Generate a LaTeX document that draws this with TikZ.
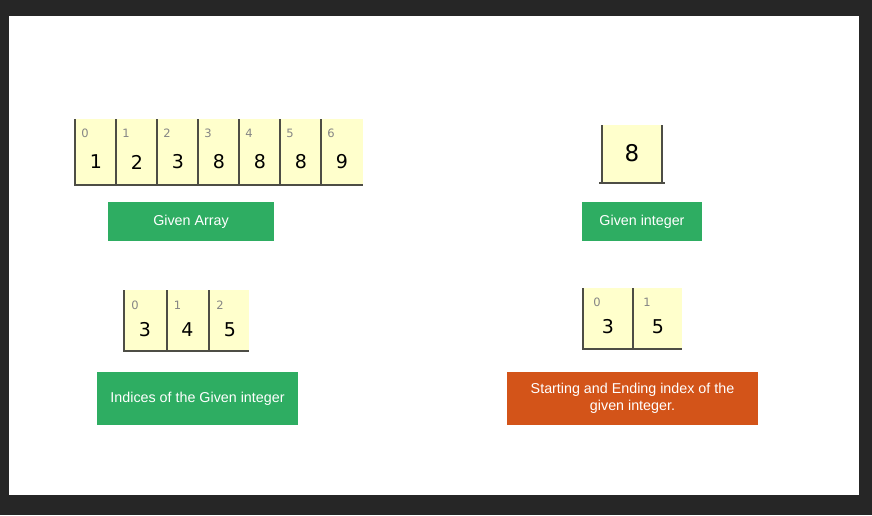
\documentclass[tikz,border=0pt]{standalone}
\usepackage{fontspec}
\setmainfont{Liberation Sans}
\newfontfamily\digitfont{DejaVu Sans}
\definecolor{frame}{HTML}{262626}
\definecolor{cellfill}{HTML}{FFFFCC}
\definecolor{cellline}{HTML}{4D4D45}
\definecolor{idxgray}{HTML}{858585}
\definecolor{gfgreen}{HTML}{2EAD62}
\definecolor{gforange}{HTML}{D35419}
\tikzset{
  cellrule/.style={draw=cellline, line width=2pt},
  valtext/.style={font=\digitfont\fontsize{19}{19}\selectfont, text=black, inner sep=0pt},
  bigval/.style={font=\digitfont\fontsize{23}{23}\selectfont, text=black, inner sep=0pt},
  idxtext/.style={font=\digitfont\fontsize{11.5}{11.5}\selectfont, text=idxgray, inner sep=0pt},
  labelbox/.style={text=white, font=\fontsize{14.3}{17}\selectfont, inner sep=0pt, align=center},
}
\begin{document}
\begin{tikzpicture}[x=1pt,y=-1pt]
\useasboundingbox (0,0) rectangle (872,515);
\fill[frame] (0,0) rectangle (872,515);
\fill[white] (9,16) rectangle (859,495);

% ---- top array ----
\fill[cellfill] (75,119) rectangle (363,185);
\foreach \v [count=\i from 0] in {1,2,3,8,8,8,9}{
  \pgfmathsetmacro{\L}{75+41*\i}
  \draw[cellrule] (\L,119) -- (\L,185);
  \node[idxtext] (ta\i) at (\L+10,133) {\i};
  \node[valtext] (tv\i) at (\L+21,162) {\v};
}
\draw[cellrule] (74,185) -- (363,185);
\node[labelbox, fill=gfgreen, minimum width=166pt, minimum height=39pt] (givenarray) at (191,221.5) {Given Array};

% ---- single integer ----
\fill[cellfill] (602,125) rectangle (662,183);
\draw[cellrule] (602,125) -- (602,183);
\draw[cellrule] (662,125) -- (662,183);
\draw[cellrule] (599,183) -- (665,183);
\node[bigval] (gint) at (632,153) {8};
\node[labelbox, fill=gfgreen, minimum width=120pt, minimum height=39pt] (givenint) at (642,221.5) {Given integer};

% ---- indices array ----
\fill[cellfill] (124,290) rectangle (249,351);
\foreach \v [count=\i from 0] in {3,4,5}{
  \pgfmathsetmacro{\L}{124+42.5*\i}
  \draw[cellrule] (\L,290) -- (\L,351);
  \node[idxtext] (ia\i) at (\L+11,305) {\i};
  \node[valtext] (iv\i) at (\L+21,330) {\v};
}
\draw[cellrule] (123,351) -- (249,351);
\node[labelbox, fill=gfgreen, minimum width=201pt, minimum height=53pt] (indices) at (197.5,398.5) {Indices of the Given integer};

% ---- start/end array ----
\fill[cellfill] (583,288) rectangle (682,349);
\foreach \v [count=\i from 0] in {3,5}{
  \pgfmathsetmacro{\L}{583+50*\i}
  \draw[cellrule] (\L,288) -- (\L,349);
  \node[idxtext] (sa\i) at (\L+14,302) {\i};
  \node[valtext] (sv\i) at (\L+25,327) {\v};
}
\draw[cellrule] (582,349) -- (682,349);
\node[labelbox, fill=gforange, minimum width=251pt, minimum height=53pt] (startend) at (632.5,398.5) {Starting and Ending index of the\\given integer.};
\end{tikzpicture}
\end{document}
